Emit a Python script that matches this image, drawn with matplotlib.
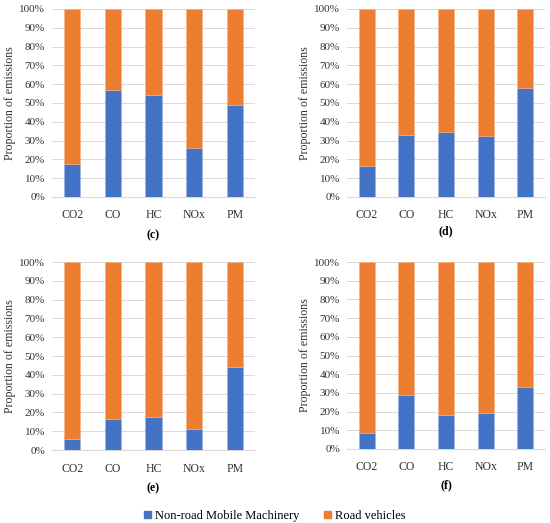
import matplotlib
matplotlib.use("Agg")
import matplotlib.pyplot as plt
from matplotlib.patches import Patch
from matplotlib.ticker import PercentFormatter

plt.rcParams['font.family'] = ['Liberation Serif', 'DejaVu Serif']

pollutants = ["CO2", "CO", "HC", "NOx", "PM"]
panel_labels = ["(c)", "(d)", "(e)", "(f)"]
series_names = ["Non-road Mobile Machinery", "Road vehicles"]

# share of non-road mobile machinery (%), road vehicles is the rest
nrmm_c = [17.8, 56.8, 54.2, 26.1, 48.8]
nrmm_d = [16.5, 32.9, 34.6, 32.7, 57.9]
nrmm_e = [5.9, 16.5, 17.7, 11.2, 44.3]
nrmm_f = [8.4, 29.0, 18.0, 19.3, 33.2]

BLUE = "#4472C4"
ORANGE = "#ED7D31"

W, H = 550, 523
fig = plt.figure(figsize=(5.5, 5.23), dpi=100)

# axes boxes in pixels: left, top, right, bottom
boxes = [(52, 9, 255, 197), (347, 9, 545, 197),
         (52, 262, 255, 450), (347, 262, 545, 449)]
label_y = [235, 231, 488, 485]

for data, box, lab, ly in zip([nrmm_c, nrmm_d, nrmm_e, nrmm_f], boxes, panel_labels, label_y):
  l, t, r, b = box
  ax = fig.add_axes([l / W, 1 - b / H, (r - l) / W, (b - t) / H])
  road = [100 - v for v in data]
  x = range(len(pollutants))
  ax.bar(x, data, width=0.4, color=BLUE, edgecolor="#9DB3E0", linewidth=0.4, zorder=3)
  ax.bar(x, road, width=0.4, bottom=data, color=ORANGE, edgecolor="#F4B183", linewidth=0.4, zorder=3)
  ax.set_xlim(-0.5, len(pollutants) - 0.5)
  ax.set_ylim(0, 100)
  ax.set_yticks(range(0, 101, 10))
  ax.yaxis.set_major_formatter(PercentFormatter(decimals=0))
  ax.set_xticks(list(x))
  ax.set_xticklabels(pollutants)
  ax.grid(axis="y", color="#D9D9D9", linewidth=0.7, zorder=0)
  for s in ["top", "right", "left"]:
    ax.spines[s].set_visible(False)
  ax.spines["bottom"].set_color("#D9D9D9")
  ax.tick_params(axis="y", length=0, labelsize=8, colors="#333333", pad=5)
  ax.tick_params(axis="x", length=0, labelsize=8.5, colors="#333333", pad=9)
  ax.set_ylabel("Proportion of emissions", fontsize=8.6, color="#333333", labelpad=2)
  fig.text((l + r) / 2 / W, 1 - ly / H, lab, ha="center", va="center",
           fontsize=8.5, fontweight="bold")

handles = [Patch(color=BLUE), Patch(color=ORANGE)]
fig.legend(handles, series_names, loc="center", bbox_to_anchor=(0.5, 1 - 516 / H),
           ncol=2, frameon=False, fontsize=9, handlelength=0.55, handleheight=0.55,
           handletextpad=0.3, columnspacing=2.0)

fig.savefig("out.png", dpi=100)
